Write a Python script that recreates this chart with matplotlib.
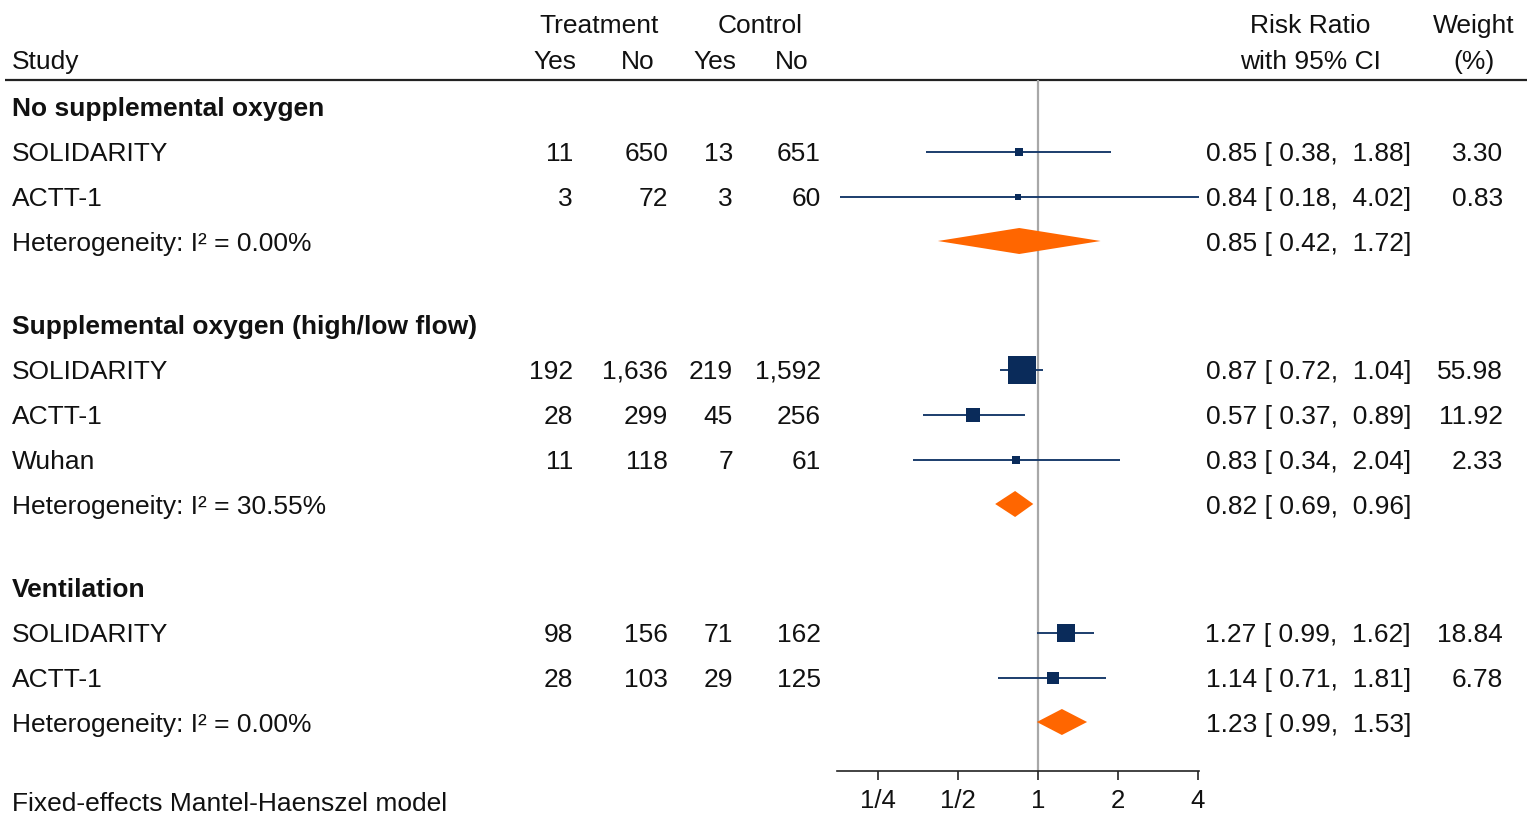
import numpy as np
import matplotlib
matplotlib.use("Agg")
import matplotlib.pyplot as plt
from matplotlib.patches import Polygon

plt.rcParams['font.family'] = ['Liberation Sans', 'DejaVu Sans']

# data
groups = ["No supplemental oxygen", "Supplemental oxygen (high/low flow)", "Ventilation"]
study_group = [0, 0, 1, 1, 1, 2, 2]
studies = ["SOLIDARITY", "ACTT-1", "SOLIDARITY", "ACTT-1", "Wuhan", "SOLIDARITY", "ACTT-1"]
treat_yes = [11, 3, 192, 28, 11, 98, 28]
treat_no = [650, 72, 1636, 299, 118, 156, 103]
ctrl_yes = [13, 3, 219, 45, 7, 71, 29]
ctrl_no = [651, 60, 1592, 256, 61, 162, 125]
rr = [0.85, 0.84, 0.87, 0.57, 0.83, 1.27, 1.14]
rr_lo = [0.38, 0.18, 0.72, 0.37, 0.34, 0.99, 0.71]
rr_hi = [1.88, 4.02, 1.04, 0.89, 2.04, 1.62, 1.81]
weights = [3.30, 0.83, 55.98, 11.92, 2.33, 18.84, 6.78]
het_i2 = [0.00, 30.55, 0.00]
pooled_rr = [0.85, 0.82, 1.23]
pooled_lo = [0.42, 0.69, 0.99]
pooled_hi = [1.72, 0.96, 1.53]
xticks = [0.25, 0.5, 1, 2, 4]
xtick_labels = ["1/4", "1/2", "1", "2", "4"]
footnote = "Fixed-effects Mantel-Haenszel model"

NAVY = '#0a2b5a'
NAVY_LINE = '#1b3d6d'
ORANGE = '#ff6600'
FS = 19
W, H = 1536, 831

# row layout (pixel units, top = 0)
ROW = 45
GAP = 83
y = 107
header_y, study_y, het_y = [], [], []
for g in range(len(groups)):
    header_y.append(y)
    for i, sg in enumerate(study_group):
        if sg == g:
            y += ROW
            study_y.append(y)
    y += ROW
    het_y.append(y)
    y += GAP

fig = plt.figure(figsize=(W / 100, H / 100), dpi=100)

# text layer spanning the whole figure, in pixel coordinates
tax = fig.add_axes([0, 0, 1, 1])
tax.set_xlim(0, W)
tax.set_ylim(H, 0)
tax.axis('off')

BL = 9  # baseline offset from row centre


def txt(x, yc, s, ha='left', bold=False, size=FS):
    tax.text(x, yc + BL, s, ha=ha, va='baseline', fontsize=size,
             fontweight='bold' if bold else 'normal', color='#111111')


# column headers
txt(599, 24, "Treatment", ha='center')
txt(760, 24, "Control", ha='center')
txt(12, 60, "Study")
txt(555, 60, "Yes", ha='center')
txt(638, 60, "No", ha='center')
txt(715, 60, "Yes", ha='center')
txt(792, 60, "No", ha='center')
txt(1310, 24, "Risk Ratio", ha='center')
txt(1310, 60, "with 95% CI", ha='center')
txt(1474, 24, "Weight", ha='center')
txt(1474, 60, "(%)", ha='center')
tax.plot([5, 1527], [80, 80], color='#222222', lw=1.6, solid_capstyle='butt')

COLS = [573, 668, 733, 821]


def ci_str(m, lo, hi):
    return f"{m:.2f} [ {lo:.2f},  {hi:.2f}]"


for g, name in enumerate(groups):
    txt(12, header_y[g], name, bold=True)
    txt(12, het_y[g], f"Heterogeneity: I\u00b2 = {het_i2[g]:.2f}%")
    txt(1411, het_y[g], ci_str(pooled_rr[g], pooled_lo[g], pooled_hi[g]), ha='right')

for i, name in enumerate(studies):
    yc = study_y[i]
    txt(12, yc, name)
    for x, v in zip(COLS, [treat_yes[i], treat_no[i], ctrl_yes[i], ctrl_no[i]]):
        txt(x, yc, f"{v:,}", ha='right')
    txt(1411, yc, ci_str(rr[i], rr_lo[i], rr_hi[i]), ha='right')
    txt(1503, yc, f"{weights[i]:.2f}", ha='right')

txt(12, 802, footnote)

# forest panel
x0, x1 = 837, 1199
y_top, y_bot = 80, 771
ax = fig.add_axes([x0 / W, (H - y_bot) / H, (x1 - x0) / W, (y_bot - y_top) / H])
ax.patch.set_alpha(0)
ax.set_xscale('log', base=2)
ax.set_xlim(2 ** ((x0 - 1038) / 80), 2 ** ((x1 - 1038) / 80))
ax.set_ylim(y_bot, y_top)
for s in ['top', 'right', 'left']:
    ax.spines[s].set_visible(False)
ax.spines['bottom'].set_linewidth(1.2)
ax.spines['bottom'].set_color('#222222')
ax.set_yticks([])
ax.set_xticks(xticks)
ax.set_xticklabels(xtick_labels)
ax.xaxis.set_minor_locator(matplotlib.ticker.NullLocator())
ax.tick_params(axis='x', direction='out', length=6.5, width=1.2, color='#222222',
               labelsize=FS - 0.5, pad=6.5, labelcolor='#111111')

ax.axvline(1, color='#a8a8a8', lw=1.6, zorder=1)

sides = 2.6 + 3.4 * np.sqrt(np.array(weights))  # px
for i in range(len(studies)):
    ax.plot([rr_lo[i], rr_hi[i]], [study_y[i], study_y[i]], color=NAVY_LINE,
            lw=1.4, zorder=2, clip_on=False, solid_capstyle='butt')
    ax.plot(rr[i], study_y[i], marker='s', ms=sides[i] * 0.72, mew=0,
            color=NAVY, zorder=3, clip_on=False)

for g in range(len(groups)):
    yc = het_y[g] - 1
    dia = Polygon([(pooled_lo[g], yc), (pooled_rr[g], yc - 13),
                   (pooled_hi[g], yc), (pooled_rr[g], yc + 13)],
                  closed=True, facecolor=ORANGE, edgecolor='none', zorder=3,
                  clip_on=False)
    ax.add_patch(dia)

fig.savefig("out.png", dpi=100)
